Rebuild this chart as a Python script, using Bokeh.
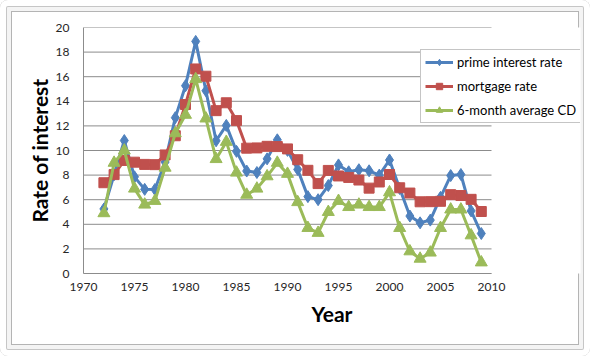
from bokeh.plotting import figure
from bokeh.models import Range1d, Legend, LegendItem, FixedTicker, ColumnDataSource
from bokeh.embed import file_html
from bokeh.resources import INLINE

years = list(range(1972, 2010))
prime = [5.25, 8.03, 10.81, 7.86, 6.84, 6.83, 9.06, 12.67, 15.27, 18.87, 14.86, 10.79,
         12.04, 9.93, 8.33, 8.21, 9.32, 10.87, 10.01, 8.46, 6.25, 6.00, 7.15, 8.83,
         8.27, 8.44, 8.35, 8.00, 9.23, 6.91, 4.67, 4.12, 4.34, 6.19, 7.96, 8.05, 5.09, 3.25]
mortgage = [7.38, 8.04, 9.19, 9.05, 8.87, 8.85, 9.64, 11.20, 13.74, 16.63, 16.04, 13.24,
            13.88, 12.43, 10.19, 10.21, 10.34, 10.32, 10.13, 9.25, 8.39, 7.31, 8.38, 7.93,
            7.81, 7.60, 6.94, 7.44, 8.05, 6.97, 6.54, 5.83, 5.84, 5.87, 6.41, 6.34, 6.03, 5.04]
cd = [4.9, 9.0, 10.0, 6.9, 5.6, 5.9, 8.6, 11.4, 12.9, 15.8, 12.6, 9.3,
      10.7, 8.2, 6.4, 6.9, 7.9, 9.0, 8.1, 5.8, 3.7, 3.3, 5.0, 5.9,
      5.4, 5.6, 5.4, 5.4, 6.6, 3.7, 1.8, 1.2, 1.7, 3.7, 5.2, 5.2, 3.1, 0.9]

x_ticks = [1970, 1975, 1980, 1985, 1990, 1995, 2000, 2005, 2010]
y_ticks = [0, 2, 4, 6, 8, 10, 12, 14, 16, 18, 20]
X_MIN, X_MAX = 1970, 2010

FONT = "Lato"
BLUE, RED, GREEN = "#4F81BD", "#C0504D", "#9BBB59"
GRID = "#8C8C8C"

src = ColumnDataSource(dict(year=years, prime=prime, mortgage=mortgage, cd=cd))

W, H = 590, 356
LEFT, TOP, RIGHT, BOTTOM = 83, 27, 10, 83
frame_w = W - LEFT - RIGHT
px_per_year = 408 / (X_MAX - X_MIN)

p = figure(width=W, height=H, output_backend="svg", toolbar_location=None,
           x_range=Range1d(X_MIN, X_MIN + frame_w / px_per_year), y_range=Range1d(0, 20),
           min_border_left=LEFT, min_border_right=RIGHT, min_border_top=TOP, min_border_bottom=BOTTOM)
p.outline_line_color = None
p.background_fill_color = "white"
p.border_fill_alpha = 0
p.styles = {
    "background": "white",
    "box-shadow": ("inset 0 0 0 6px white, inset 0 0 0 7px #C6C6C6, "
                   "inset 0 0 0 11px #F4F4F4, inset 0 0 0 12px #B4B4B4"),
    "border-radius": "8px",
}

p.xaxis.ticker = FixedTicker(ticks=x_ticks)
p.yaxis.ticker = FixedTicker(ticks=y_ticks)
p.xaxis.bounds = (X_MIN, X_MAX)
p.xgrid.grid_line_color = None
p.ygrid.grid_line_color = None

# horizontal gridlines limited to the plotted x span
p.segment(x0=[X_MIN] * len(y_ticks), x1=[X_MAX] * len(y_ticks), y0=y_ticks, y1=y_ticks,
          line_color=GRID, line_width=1, level="underlay")

for ax in (p.xaxis, p.yaxis):
    ax.axis_line_color = GRID
    ax.major_tick_line_color = None
    ax.minor_tick_line_color = None
    ax.major_tick_out = 0
    ax.major_tick_in = 0
    ax.major_label_text_font = FONT
    ax.major_label_text_font_size = "12px"
    ax.major_label_text_color = "#262626"
    ax.axis_label_text_font = FONT
    ax.axis_label_text_font_size = "21px"
    ax.axis_label_text_font_style = "bold"
    ax.axis_label_text_color = "black"

p.xaxis.axis_label = "Year"
p.yaxis.axis_label = "Rate of interest"
p.xaxis.major_label_standoff = 9
p.yaxis.major_label_standoff = 14
p.xaxis.axis_label_standoff = 7
p.yaxis.axis_label_standoff = 1

l1 = p.line("year", "prime", source=src, color=BLUE, line_width=3)
s1 = p.scatter("year", "prime", source=src, marker="diamond", size=12, color=BLUE)
l2 = p.line("year", "mortgage", source=src, color=RED, line_width=3)
s2 = p.scatter("year", "mortgage", source=src, marker="square", size=10, color=RED)
l3 = p.line("year", "cd", source=src, color=GREEN, line_width=3)
s3 = p.scatter("year", "cd", source=src, marker="triangle", size=12, color=GREEN)

legend = Legend(items=[
    LegendItem(label="prime interest rate", renderers=[l1, s1]),
    LegendItem(label="mortgage rate", renderers=[l2, s2]),
    LegendItem(label="6-month average CD", renderers=[l3, s3]),
], location=(337, 150))
legend.label_text_font = FONT
legend.label_text_font_size = "13px"
legend.label_text_color = "black"
legend.glyph_width = 28
legend.glyph_height = 16
legend.label_height = 16
legend.label_standoff = 4
legend.spacing = 8
legend.padding = 4
legend.margin = 0
legend.border_line_color = GRID
legend.border_line_width = 1
legend.background_fill_color = "white"
legend.background_fill_alpha = 1
p.add_layout(legend, "center")

open("out.html", "w").write(file_html(p, INLINE))
